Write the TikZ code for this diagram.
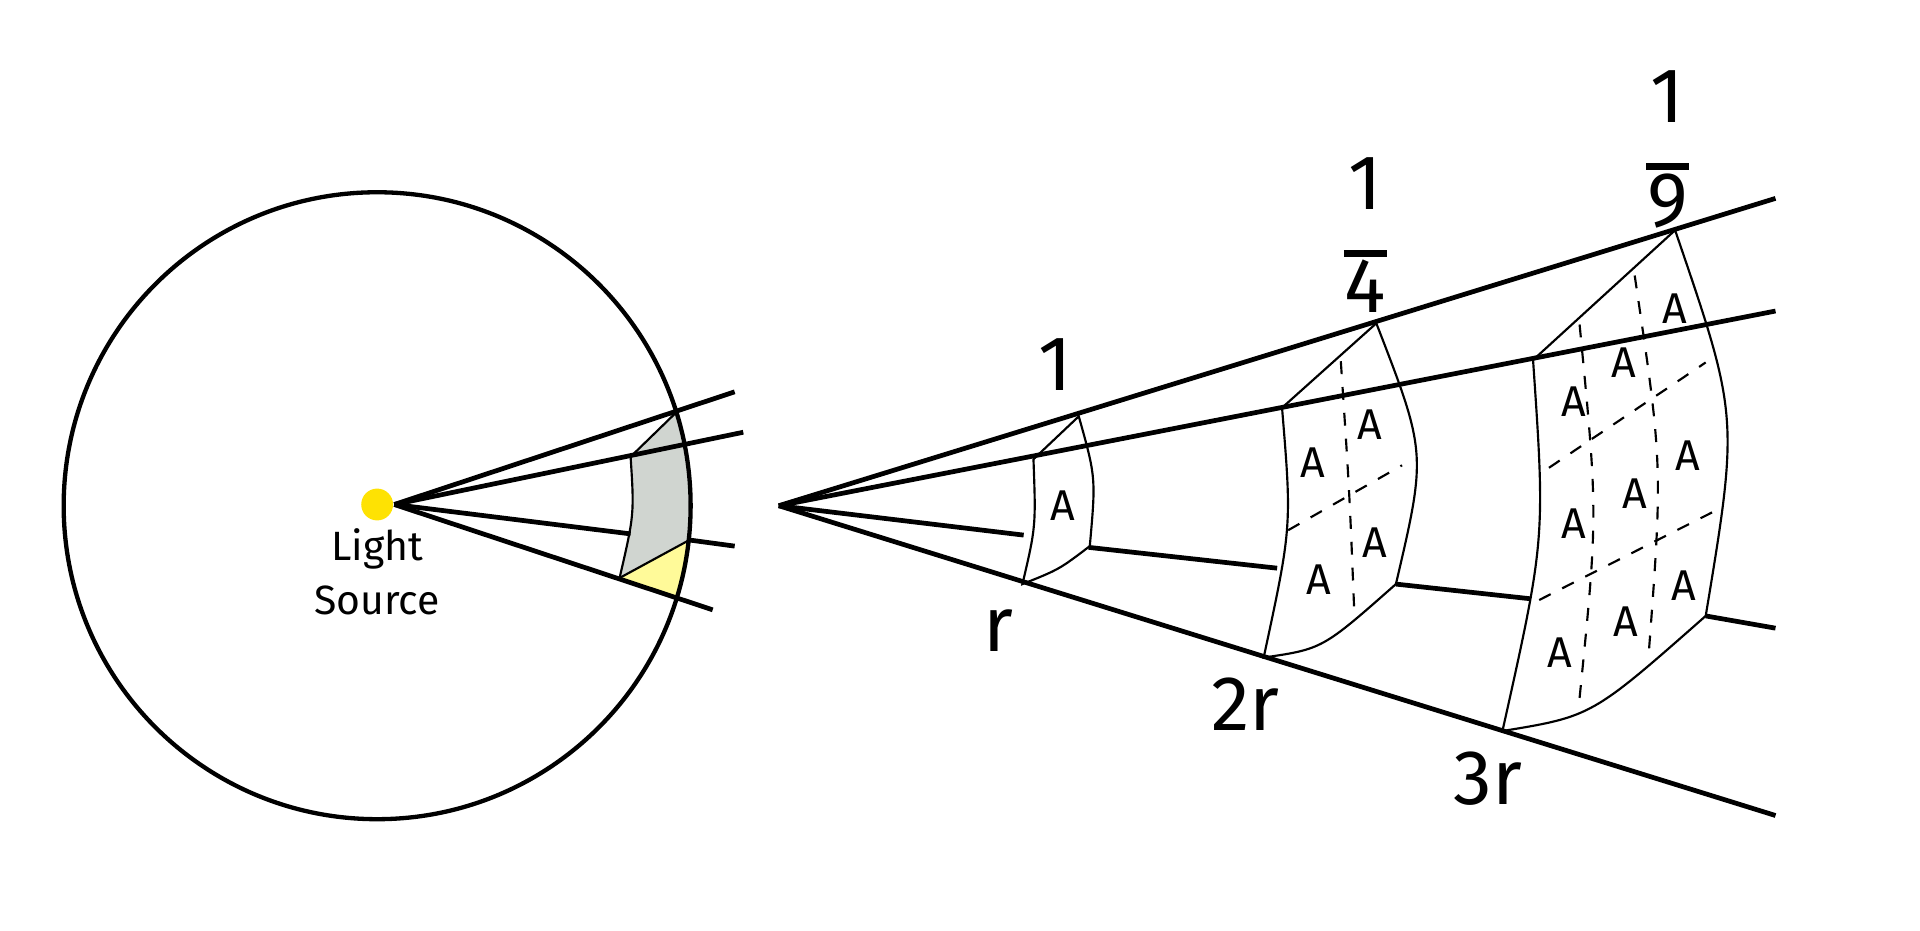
\documentclass[tikz,border=0pt]{standalone}
\usepackage{fontspec}
\setmainfont{Fira Sans}
\usetikzlibrary{calc}
\tikzset{
  ray/.style={black,line width=1.1pt},
  edge/.style={black,line width=0.5pt},
  grid/.style={black,line width=0.5pt,dashed},
  tile/.style={font=\fontsize{10}{10}\selectfont},
  big/.style={font=\fontsize{18}{18}\selectfont,align=center}
}
\newcommand\fracbar[2]{#1\\[-7pt]\rule{0.55em}{1.6pt}\\[-5pt]#2}

\begin{document}
\begin{tikzpicture}[x=0.01cm,y=-0.01cm]
\useasboundingbox (0,0) rectangle (1568,760);

% left: sphere round the source
\coordinate (S) at (322,412);
\coordinate (G1) at (515,373);
\coordinate (G2) at (551,338);
\coordinate (G3) at (563,441);
\coordinate (G4) at (506,472);
\coordinate (G5) at (551,489);
\fill[gray!30!green!8!gray!35] (G1) -- (G2) arc[start angle=-17.1,end angle=6.3,radius=256] -- (G4) .. controls (518,420) .. (G1);
\fill[yellow!40] (G4) -- (G3) arc[start angle=6.3,end angle=17.4,radius=256] -- cycle;
\draw[edge] (G1) -- (G2);
\draw[edge] (G4) .. controls (518,420) .. (G1);
\draw[edge] (G4) -- (G3);
\draw[line width=1pt] (308,413) circle[radius=256];
\draw[ray] (S) -- (600,320);
\draw[ray] (S) -- (607,353);
\draw[ray] (S) -- (515,436);
\draw[ray] (G3) -- (600,446);
\draw[ray] (S) -- (582,498);
\fill[yellow!85!orange] (308,412) circle[radius=13];
\node[font=\fontsize{9.5}{12.5}\selectfont,align=center] (src) at (308,467) {Light\\Source};

% right: the cone
\coordinate (O) at (636,413);
\draw[ray] (O) -- (1450,162);
\draw[ray] (O) -- (1450,254);
\draw[ray] (O) -- (1450,666);
\draw[ray] (O) -- (836,437);
\draw[ray] (889,447) -- (1043,464);
\draw[ray] (1140,477) -- (1250,489);
\draw[ray] (1393,503) -- (1450,513);

% patch at r
\coordinate (a1) at (881,340); \coordinate (a2) at (844,375);
\coordinate (a3) at (835,477); \coordinate (a4) at (890,446);
\draw[edge] (a2) -- (a1) .. controls (895,390) .. (a4);
\draw[edge] (a2) .. controls (846,430) .. (a3) .. controls (865,465) .. (a4);
\node[tile] (t1) at (868,413) {A};

% patch at 2r
\coordinate (b1) at (1124,264); \coordinate (b2) at (1047,333);
\coordinate (b3) at (1032,537); \coordinate (b4) at (1140,477);
\draw[edge] (b2) -- (b1) .. controls (1165,370) .. (b4);
\draw[edge] (b2) .. controls (1055,430) .. (b3) .. controls (1080,530) .. (b4);
\draw[grid] (1095,295) .. controls (1102,400) .. (1106,500);
\draw[grid] (1052,433) -- (1145,380);
\foreach \p in {(1072,378),(1119,347),(1123,443),(1077,473)}
  \node[tile] at \p {A};

% patch at 3r
\coordinate (c1) at (1368,188); \coordinate (c2) at (1252,294);
\coordinate (c3) at (1227,597); \coordinate (c4) at (1393,503);
\draw[edge] (c2) -- (c1) .. controls (1420,340) .. (c4);
\draw[edge] (c2) .. controls (1262,440) .. (c3) .. controls (1300,585) .. (c4);
\draw[grid] (1290,265) .. controls (1305,420) .. (1290,570);
\draw[grid] (1335,225) .. controls (1358,380) .. (1346,540);
\draw[grid] (1265,382) -- (1393,296);
\draw[grid] (1257,490) -- (1405,415);
\foreach \p in {(1368,252),(1326,296),(1285,328),(1378,372),(1335,403),(1285,428),(1375,478),(1328,508),(1274,533)}
  \node[tile] at \p {A};

% labels
\node[big] (one) at (862,298) {1};
\node[big] (quarter) at (1115,192) {\fracbar{1}{4}};
\node[big] (ninth) at (1362,122) {\fracbar{1}{9}};
\node[big] (r1) at (815,515) {r};
\node[big] (r2) at (1017,575) {2r};
\node[big] (r3) at (1215,636) {3r};
\end{tikzpicture}
\end{document}
